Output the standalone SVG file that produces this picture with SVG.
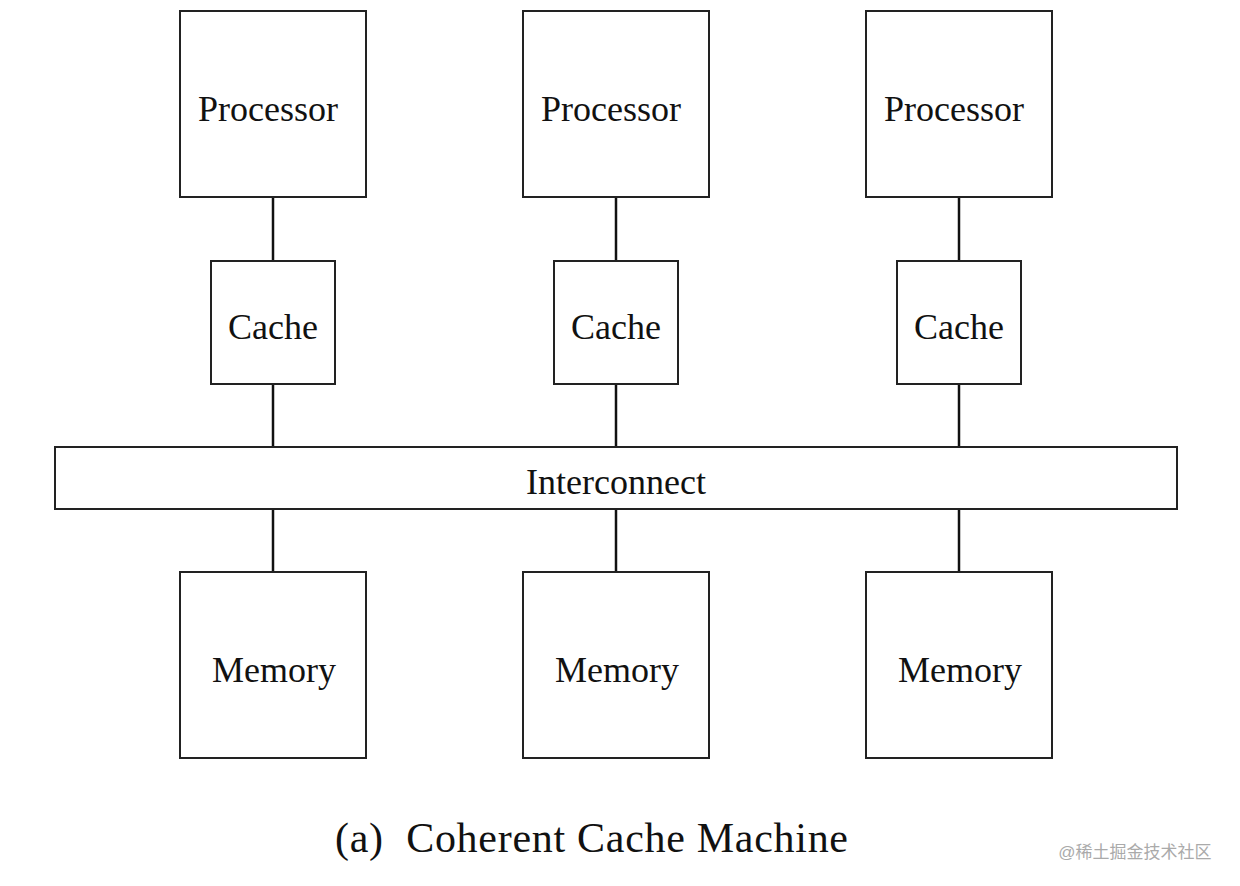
<svg xmlns="http://www.w3.org/2000/svg" width="1240" height="886" viewBox="0 0 1240 886">
<style>
rect{fill:#fff;stroke:#222;stroke-width:2}
line{stroke:#111;stroke-width:2.5}
text{font-family:"Liberation Serif",serif;font-size:36px;fill:#111;text-anchor:middle}
</style>
<rect x="0" y="0" width="1240" height="886" style="stroke:none"/>
<g id="connectors">
<line x1="273" y1="197" x2="273" y2="261"/><line x1="616" y1="197" x2="616" y2="261"/><line x1="959" y1="197" x2="959" y2="261"/>
<line x1="273" y1="384" x2="273" y2="447"/><line x1="616" y1="384" x2="616" y2="447"/><line x1="959" y1="384" x2="959" y2="447"/>
<line x1="273" y1="509" x2="273" y2="572"/><line x1="616" y1="509" x2="616" y2="572"/><line x1="959" y1="509" x2="959" y2="572"/>
</g>
<g id="p1"><rect x="180" y="11" width="186" height="186"/><text x="268" y="121">Processor</text></g>
<g id="p2"><rect x="523" y="11" width="186" height="186"/><text x="611" y="121">Processor</text></g>
<g id="p3"><rect x="866" y="11" width="186" height="186"/><text x="954" y="121">Processor</text></g>
<g id="c1"><rect x="211" y="261" width="124" height="123"/><text x="273" y="339">Cache</text></g>
<g id="c2"><rect x="554" y="261" width="124" height="123"/><text x="616" y="339">Cache</text></g>
<g id="c3"><rect x="897" y="261" width="124" height="123"/><text x="959" y="339">Cache</text></g>
<g id="ic"><rect x="55" y="447" width="1122" height="62"/><text x="616" y="494">Interconnect</text></g>
<g id="m1"><rect x="180" y="572" width="186" height="186"/><text x="274" y="682">Memory</text></g>
<g id="m2"><rect x="523" y="572" width="186" height="186"/><text x="617" y="682">Memory</text></g>
<g id="m3"><rect x="866" y="572" width="186" height="186"/><text x="960" y="682">Memory</text></g>
<text x="335" y="852" xml:space="preserve" style="font-size:42px;text-anchor:start" textLength="513">(a)  Coherent Cache Machine</text>
<text x="1135" y="858" style="font-family:'Liberation Sans','Noto Sans CJK SC',sans-serif;font-size:17px;fill:#aaa">@稀土掘金技术社区</text>
</svg>
